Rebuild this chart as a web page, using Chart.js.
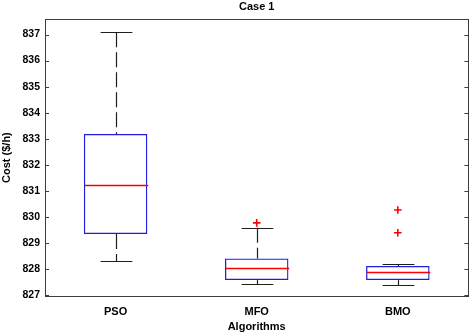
<!DOCTYPE html>
<html>
<head>
<meta charset="utf-8">
<script src="https://cdn.jsdelivr.net/npm/chart.js@4/dist/chart.umd.min.js"></script>
<style>
  html, body { margin: 0; padding: 0; background: #fff; }
  canvas { display: block; }
</style>
</head>
<body>
<canvas id="chart" width="474" height="335"></canvas>
<script>
// Box-plot statistics of the cost for each algorithm
const algorithms   = ['PSO', 'MFO', 'BMO'];
const lowerWhisker = [828.29, 827.42, 827.38];
const quartile1    = [829.34, 827.57, 827.57];
const medians      = [831.24, 828.02, 827.87];
const quartile3    = [833.18, 828.40, 828.11];
const upperWhisker = [837.09, 829.58, 828.19];
const outliers     = [[], [829.77], [830.26, 829.39]];
const yTicks       = [827, 828, 829, 830, 831, 832, 833, 834, 835, 836, 837];

const FONT = "'Liberation Sans', Arial, sans-serif";
const BOX_BLUE = 'rgb(30, 30, 225)';
const MEDIAN_RED = 'rgb(255, 0, 0)';
const WHISKER = 'rgb(30, 30, 30)';
const FRAME = 'rgb(60, 60, 60)';

const outlierPoints = [];
outliers.forEach((vals, i) => vals.forEach(v => outlierPoints.push({ x: algorithms[i], y: v })));

// Whiskers, caps and median lines, placed through the chart scales
const boxPlotPlugin = {
  id: 'boxPlotParts',
  afterDatasetsDraw(chart) {
    const { ctx, scales: { x, y } } = chart;
    const boxes = chart.getDatasetMeta(0).data;
    const cxs = algorithms.map((_, i) => Math.round(x.getPixelForValue(i)) + 0.5);
    ctx.save();
    ctx.lineWidth = 1.2;

    // dashed whisker stems
    ctx.strokeStyle = WHISKER;
    ctx.setLineDash([15, 5]);
    algorithms.forEach((_, i) => {
      ctx.beginPath();
      ctx.moveTo(cxs[i], y.getPixelForValue(upperWhisker[i]));
      ctx.lineTo(cxs[i], y.getPixelForValue(quartile3[i]));
      ctx.stroke();
      ctx.beginPath();
      ctx.moveTo(cxs[i], y.getPixelForValue(quartile1[i]));
      ctx.lineTo(cxs[i], y.getPixelForValue(lowerWhisker[i]));
      ctx.stroke();
    });

    // whisker caps
    ctx.setLineDash([]);
    ctx.beginPath();
    algorithms.forEach((_, i) => {
      const capHalf = boxes[i].width / 4;
      const yMax = Math.round(y.getPixelForValue(upperWhisker[i])) + 0.5;
      const yMin = Math.round(y.getPixelForValue(lowerWhisker[i])) + 0.5;
      ctx.moveTo(cxs[i] - capHalf, yMax);
      ctx.lineTo(cxs[i] + capHalf, yMax);
      ctx.moveTo(cxs[i] - capHalf, yMin);
      ctx.lineTo(cxs[i] + capHalf, yMin);
    });
    ctx.stroke();

    // medians
    ctx.strokeStyle = MEDIAN_RED;
    ctx.lineWidth = 1.4;
    ctx.beginPath();
    algorithms.forEach((_, i) => {
      const half = boxes[i].width / 2;
      const yMed = Math.round(y.getPixelForValue(medians[i])) + 0.5;
      ctx.moveTo(cxs[i] - half, yMed);
      ctx.lineTo(cxs[i] + half, yMed);
    });
    ctx.stroke();
    ctx.restore();
  },
  afterDraw(chart) {
    const { ctx, chartArea: a, scales: { y } } = chart;
    ctx.save();
    ctx.strokeStyle = FRAME;
    ctx.lineWidth = 1;
    ctx.strokeRect(Math.round(a.left) + 0.5, Math.round(a.top) + 0.5,
                   Math.round(a.right - a.left), Math.round(a.bottom - a.top));
    // inward tick marks on both vertical sides
    ctx.beginPath();
    yTicks.forEach(v => {
      const py = Math.round(y.getPixelForValue(v)) + 0.5;
      ctx.moveTo(a.left, py);
      ctx.lineTo(a.left + 4, py);
      ctx.moveTo(a.right - 4, py);
      ctx.lineTo(a.right, py);
    });
    ctx.stroke();
    ctx.restore();
  }
};

new Chart(document.getElementById('chart'), {
  type: 'bar',
  data: {
    labels: algorithms,
    datasets: [
      {
        type: 'bar',
        data: algorithms.map((_, i) => [quartile1[i], quartile3[i]]),
        backgroundColor: 'rgba(255,255,255,0)',
        borderColor: BOX_BLUE,
        borderWidth: 1.3,
        borderSkipped: false,
        categoryPercentage: 1,
        barPercentage: 0.45
      },
      {
        type: 'line',
        data: outlierPoints,
        showLine: false,
        pointStyle: 'cross',
        pointRadius: 3.8,
        pointBorderWidth: 1.6,
        pointBorderColor: MEDIAN_RED,
        pointBackgroundColor: MEDIAN_RED
      }
    ]
  },
  options: {
    responsive: false,
    animation: false,
    layout: { padding: { left: 0, right: 3, top: 0, bottom: 0 } },
    plugins: {
      legend: { display: false },
      tooltip: { enabled: false },
      title: {
        display: true,
        text: 'Case 1',
        fullSize: false,
        color: '#000',
        font: { family: FONT, size: 11, weight: 'bold' },
        padding: { top: 0, bottom: 6 }
      }
    },
    scales: {
      x: {
        type: 'category',
        offset: true,
        grid: { display: false, drawTicks: false },
        border: { display: false },
        ticks: { color: '#000', font: { family: FONT, size: 11, weight: 'bold' }, padding: 9 },
        title: {
          display: true,
          text: 'Algorithms',
          color: '#000',
          font: { family: FONT, size: 11, weight: 'bold' },
          padding: { top: 0, bottom: 1 }
        },
        afterFit(scale) { scale.height = 39; }
      },
      y: {
        min: 826.96,
        max: 837.59,
        grid: { display: false, drawTicks: false },
        border: { display: false },
        afterBuildTicks(scale) { scale.ticks = yTicks.map(v => ({ value: v })); },
        ticks: { color: '#000', font: { family: FONT, size: 10.5, weight: 'bold' }, padding: 5 },
        title: {
          display: true,
          text: 'Cost ($/h)',
          color: '#000',
          font: { family: FONT, size: 11, weight: 'bold' },
          padding: { top: 0, bottom: 0 }
        },
        afterFit(scale) { scale.width = 45; }
      }
    }
  },
  plugins: [boxPlotPlugin]
});
</script>
</body>
</html>
